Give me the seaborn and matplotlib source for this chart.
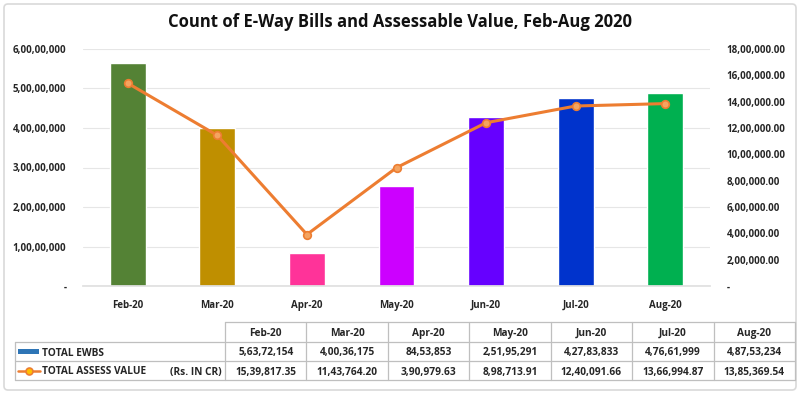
import matplotlib.pyplot as plt
import numpy as np
import seaborn as sns
from matplotlib.patches import FancyBboxPatch, Rectangle
from matplotlib.lines import Line2D
from matplotlib.ticker import FuncFormatter, MultipleLocator

months = ['Feb-20', 'Mar-20', 'Apr-20', 'May-20', 'Jun-20', 'Jul-20', 'Aug-20']
total_ewbs = [56372154, 40036175, 8453853, 25195291, 42783833, 47661999, 48753234]
assess_value = [1539817.35, 1143764.20, 390979.63, 898713.91, 1240091.66, 1366994.87, 1385369.54]
bar_colors = ['#548235', '#BF8F00', '#FF3399', '#CC00FF', '#6600FF', '#0033CC', '#00B050']

LINE_C = '#ED7D31'
TXT = '#262626'


def indian(v, decimals=0):
    # Indian digit grouping: 12,34,56,789
    s = f'{abs(v):.{decimals}f}'
    if decimals:
        whole, frac = s.split('.')
    else:
        whole, frac = s, ''
    if len(whole) > 3:
        head, tail = whole[:-3], whole[-3:]
        parts = []
        while len(head) > 2:
            parts.insert(0, head[-2:])
            head = head[:-2]
        if head:
            parts.insert(0, head)
        whole = ','.join(parts + [tail])
    return whole + ('.' + frac if frac else '')


sns.set_theme(style='white')
plt.rcParams['font.family'] = ['Open Sans', 'DejaVu Sans']

fig = plt.figure(figsize=(8, 3.95), dpi=100)
W, H = 800, 395

# outer frame
frame = fig.add_axes([0, 0, 1, 1])
frame.set_xlim(0, W)
frame.set_ylim(H, 0)
frame.axis('off')
frame.add_patch(FancyBboxPatch((4, 4), W - 8, H - 9, boxstyle='round,pad=0,rounding_size=4',
                               fc='white', ec='#D9D9D9', lw=1.2))

ax = fig.add_axes([83 / W, 1 - 286 / H, (710 - 83) / W, (286 - 49) / H])
ax.patch.set_alpha(0)
x = np.arange(len(months))
sns.barplot(x=months, y=total_ewbs, hue=months, palette=bar_colors, legend=False,
            width=0.4, saturation=1, ax=ax, zorder=2)
ax.set_xlim(-0.5, len(months) - 0.5)
ax.set_ylim(0, 60000000)
ax.yaxis.set_major_locator(MultipleLocator(10000000))
ax.yaxis.set_major_formatter(FuncFormatter(lambda v, p: '-' if v == 0 else indian(v)))
ax.grid(axis='y', color='#E6E6E6', lw=0.8, zorder=0)
for s in ['top', 'right', 'left']:
    ax.spines[s].set_visible(False)
ax.spines['bottom'].set_color('#E0E0E0')
ax.tick_params(axis='both', length=0, labelsize=7, colors=TXT)
ax.tick_params(axis='x', pad=10)
ax.tick_params(axis='y', pad=12)
for lab in ax.get_xticklabels() + ax.get_yticklabels():
    lab.set_fontweight('bold')

ax2 = ax.twinx()
ax2.plot(x, assess_value, color=LINE_C, lw=2.2, marker='o', ms=5.5,
         mfc='#F4A460', mec=LINE_C, mew=1.2, zorder=3)
ax2.set_ylim(0, 1800000)
ax2.yaxis.set_major_locator(MultipleLocator(200000))
ax2.yaxis.set_major_formatter(FuncFormatter(lambda v, p: '-' if v == 0 else indian(v, 2)))
for s in ['top', 'right', 'left', 'bottom']:
    ax2.spines[s].set_visible(False)
ax2.tick_params(axis='y', length=0, labelsize=7, colors=TXT, pad=12)
for lab in ax2.get_yticklabels():
    lab.set_fontweight('bold')
ax2.grid(False)

fig.text(0.5, 1 - 22 / H, 'Count of E-Way Bills and Assessable Value, Feb-Aug 2020',
         ha='center', va='center', fontsize=12, fontweight='bold', color='#111111')

# data table below the chart
rows = [322, 342, 361, 380]
cols = np.linspace(225, 795, len(months) + 1)
grid_c = '#BFBFBF'
frame.plot([cols[0], cols[-1]], [rows[0], rows[0]], color=grid_c, lw=0.9)
for r in rows[1:]:
    frame.plot([15, cols[-1]], [r, r], color=grid_c, lw=0.9)
for c in cols:
    frame.plot([c, c], [rows[0], rows[-1]], color=grid_c, lw=0.9)
frame.plot([15, 15], [rows[1], rows[-1]], color=grid_c, lw=0.9)

fs = 7.3
va = 'center_baseline'
for i, m in enumerate(months):
    cx = (cols[i] + cols[i + 1]) / 2
    frame.text(cx, (rows[0] + rows[1]) / 2, m, ha='center', va=va, fontsize=fs,
               fontweight='bold', color=TXT)
    frame.text(cx, (rows[1] + rows[2]) / 2, indian(total_ewbs[i]), ha='center', va=va,
               fontsize=fs, fontweight='bold', color=TXT)
    frame.text(cx, (rows[2] + rows[3]) / 2, indian(assess_value[i], 2), ha='center', va=va,
               fontsize=fs, fontweight='bold', color=TXT)

y1 = (rows[1] + rows[2]) / 2
y2 = (rows[2] + rows[3]) / 2
frame.add_patch(Rectangle((18, y1 - 2.5), 21, 5, fc='#2E75B6', ec='none'))
frame.text(42, y1, 'TOTAL EWBS', ha='left', va=va, fontsize=fs, fontweight='bold', color=TXT)
frame.add_line(Line2D([18, 40], [y2, y2], color=LINE_C, lw=1.8))
frame.plot([29], [y2], marker='o', ms=5, mfc='#FFC000', mec=LINE_C, mew=1.2)
frame.text(42, y2, 'TOTAL ASSESS VALUE', ha='left', va=va, fontsize=fs, fontweight='bold', color=TXT)
frame.text(222, y2, '(Rs. IN CR)', ha='right', va=va, fontsize=fs, fontweight='bold', color=TXT)

fig.savefig('out.png', dpi=100)
